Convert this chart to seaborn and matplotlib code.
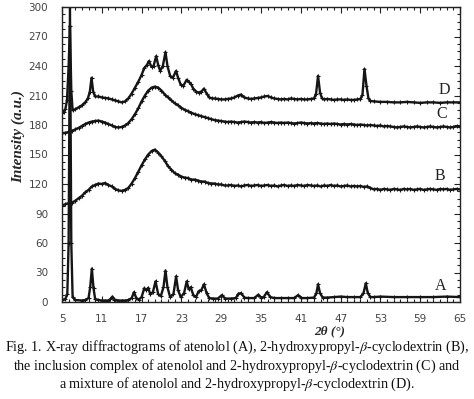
import matplotlib
matplotlib.use('Agg')
import matplotlib.pyplot as plt
import seaborn as sns
from matplotlib.ticker import MultipleLocator

# ── Data ─────────────────────────────────────────────────────────────────────
two_theta_bc = [5, 5.5, 6, 6.5, 7, 7.5, 8, 8.5, 9, 9.5, 10, 10.5, 11, 11.5, 12, 12.5,
                13, 13.5, 14, 14.5, 15, 15.5, 16, 16.5, 17, 17.5, 18, 18.5, 19, 19.5,
                20, 20.5, 21, 21.5, 22, 22.5, 23, 23.5, 24, 24.5, 25, 25.5, 26, 26.5,
                27, 27.5, 28, 28.5, 29, 29.5, 30, 30.5, 31, 31.5, 32, 32.5, 33, 33.5,
                34, 34.5, 35, 35.5, 36, 36.5, 37, 37.5, 38, 38.5, 39, 39.5, 40, 40.5,
                41, 41.5, 42, 42.5, 43, 43.5, 44, 44.5, 45, 45.5, 46, 46.5, 47, 47.5,
                48, 48.5, 49, 49.5, 50, 50.5, 51, 51.5, 52, 52.5, 53, 53.5, 54, 54.5,
                55, 55.5, 56, 56.5, 57, 57.5, 58, 58.5, 59, 59.5, 60, 60.5, 61, 61.5,
                62, 62.5, 63, 63.5, 64, 64.5, 65]

intensity_b = [98, 99.5, 100.5, 101, 103, 105.5, 108, 111.5, 114, 117.5, 119, 120.5,
               120, 121, 119, 117.5, 115, 113.5, 113, 114, 116, 120.5, 126, 132.5,
               139, 145, 150, 153.5, 155, 152, 148, 143.5, 138, 134.5, 131, 129.5,
               127.5, 126.5, 126, 124.5, 124.5, 123.5, 122.5, 122.5, 121, 120.5, 120.5,
               119.5, 119.5, 118.5, 118.5, 119, 118, 118.5, 117.5, 118.5, 119, 118,
               118.5, 119, 118, 118.5, 119, 118, 118.5, 117.5, 118.5, 119, 118, 118.5,
               118, 119, 118.5, 118, 119, 118.5, 118, 118.5, 117.5, 118.5, 118, 119,
               118, 118.5, 117.5, 118, 118.5, 117.5, 118, 117.5, 118, 117, 117.5, 116,
               114.5, 115, 114, 115, 114.5, 114, 115, 114.5, 114, 115, 114.5, 115,
               114, 114.5, 115, 114, 114.5, 115, 114.5, 114, 115, 114.5, 115, 114,
               114.5, 115, 114.5]

intensity_c = [171.5, 172, 173, 174, 175.5, 177, 179, 181, 182.5, 183.5, 184, 184.5,
               183.5, 182.5, 181, 179.5, 178, 177.5, 178, 179.5, 182, 186, 191, 197,
               204, 210, 215, 218, 219, 218, 215, 211, 208, 205, 202, 200, 197.5,
               195.5, 194, 192.5, 191, 190, 189, 188, 187, 186, 185, 184.5, 184, 183.5,
               183, 183.5, 183, 182.5, 183, 183.5, 183, 182.5, 183, 182.5, 183, 182,
               182.5, 183, 182.5, 182, 182.5, 182, 182.5, 182, 181.5, 182, 182.5, 182,
               181.5, 182, 181.5, 182, 181.5, 181, 181.5, 181, 181.5, 181, 180.5, 181,
               180.5, 181, 180.5, 180, 180.5, 180, 179.5, 180, 179.5, 179, 179.5, 178.5,
               179, 178.5, 178, 177.5, 178, 178.5, 178, 177.5, 178, 178.5, 178, 177.5,
               178, 178.5, 178, 177.5, 178, 178.5, 178, 177.5, 178, 178.5, 178]

two_theta_a = [5, 5.5, 5.8, 6.0, 6.2, 6.4, 6.6, 7, 8, 8.5, 9.0, 9.25, 9.5, 9.75, 10.0,
               10.5, 11, 11.5, 12, 12.3, 12.6, 12.9, 13.5, 14, 14.5, 15, 15.5, 15.85,
               16.2, 16.6, 17, 17.4, 17.7, 18.0, 18.3, 18.7, 19.1, 19.5, 19.9, 20.3,
               20.6, 20.9, 21.3, 21.8, 22.2, 22.5, 22.9, 23.4, 23.8, 24.1, 24.4, 24.8,
               25.2, 25.6, 26.0, 26.4, 26.8, 27.2, 27.8, 28.5, 29.1, 29.6, 30.5, 31.2,
               31.6, 32.0, 32.5, 33, 34, 34.6, 35.0, 35.4, 35.9, 36.4, 37, 38, 39, 40,
               40.6, 41.1, 42, 43.0, 43.35, 43.6, 43.9, 44.3, 45, 46, 47, 48, 49, 50,
               50.45, 50.8, 51.1, 51.5, 52, 53, 55, 57, 59, 61, 63, 65]
intensity_a = [2, 3, 8, 60, 300, 60, 5, 2, 1.5, 2, 4, 15, 34, 14, 3,
               2, 1.5, 1.5, 1.5, 3, 5.5, 2.5, 1.5, 1.5, 1.5, 2, 4, 10,
               4, 2.5, 5, 14, 12, 14.5, 8, 10, 21, 8, 6, 15,
               32, 15, 5, 8, 26, 12, 5, 9, 21, 13, 15, 7,
               5, 11, 12, 18, 9, 4, 3.5, 3.5, 7, 3.5, 3.5, 4,
               8.5, 9, 4.5, 4, 4, 7.5, 4.5, 5, 10, 5, 4, 4, 4, 4,
               7, 4, 4, 4.5, 9, 18, 9, 4.5, 4.5, 5, 5.5, 5, 5, 5,
               9, 19, 9, 5, 5, 5.5, 5, 5, 5, 5, 5.5, 5]

two_theta_d = [5.0, 5.25, 5.5, 5.75, 6.0, 6.2, 6.4, 6.6, 7.0, 7.5, 8.0, 8.5, 8.9, 9.2,
               9.45, 9.7, 10.0, 10.5, 11.0, 11.5, 12.0, 12.5, 13.0, 13.5, 14.0, 14.5,
               15.0, 15.5, 16.0, 16.5, 17.0, 17.4, 17.8, 18.1, 18.5, 18.8, 19.2, 19.5,
               19.8, 20.2, 20.6, 20.9, 21.3, 21.7, 22.2, 22.5, 22.9, 23.3, 23.8, 24.1,
               24.4, 24.8, 25.2, 25.6, 26.0, 26.4, 26.8, 27.2, 27.6, 28, 28.5, 29, 29.5,
               30, 30.5, 31, 31.5, 32, 32.5, 33, 33.5, 34, 34.5, 35, 35.5, 36, 36.5, 37,
               37.5, 38, 38.5, 39, 39.5, 40, 40.5, 41, 41.5, 42, 42.5, 43, 43.3, 43.6,
               43.9, 44.2, 44.5, 45, 45.5, 46, 46.5, 47, 47.5, 48, 48.5, 49, 49.5, 50,
               50.3, 50.6, 50.9, 51.2, 51.5, 52, 53, 54, 55, 56, 57, 58, 59, 60, 61, 62,
               63, 64, 65]
intensity_d = [192, 193, 196, 205, 240, 281, 215, 195, 196, 198, 200, 203, 207, 214,
               228, 214, 209, 209, 208, 207.5, 207, 206, 205, 204, 203, 204,
               207, 212, 218, 224, 231, 238, 241, 245, 239, 240, 250, 241,
               235, 240, 254, 240, 230, 228, 235, 228, 221, 220, 226, 224,
               222, 217, 214, 213, 214, 217, 212, 208, 207, 207, 206.5, 206, 206,
               206.5, 207, 208, 210, 211, 208, 207, 206.5, 207, 207.5, 208, 209, 209.5, 208, 207,
               206.5, 206, 206.5, 206, 207, 206.5, 206, 206.5, 206, 206, 206.5, 207, 212, 230,
               213, 207, 206, 206.5, 206, 205.5, 206, 206, 205.5, 206, 205.5, 205.5, 206, 206.5,
               211, 237, 220, 207, 204.5, 204, 203.5, 203.5, 203, 203, 203.5, 203, 202.5, 203, 203, 202.5,
               203, 203, 203]

x_ticks = [5, 11, 17, 23, 29, 35, 41, 47, 53, 59, 65]
y_ticks = [0, 30, 60, 90, 120, 150, 180, 210, 240, 270, 300]

curve_labels = ['A', 'B', 'C', 'D']
label_x = [62.0, 62.0, 62.3, 62.6]
label_y = [16, 128, 191.5, 215.5]

caption = ("Fig. 1. X-ray diffractograms of atenolol (A), 2-hydroxypropyl-$\\beta$-cyclodextrin (B),\n"
           "the inclusion complex of atenolol and 2-hydroxypropyl-$\\beta$-cyclodextrin (C) and\n"
           "a mixture of atenolol and 2-hydroxypropyl-$\\beta$-cyclodextrin (D).")

# ── Style ────────────────────────────────────────────────────────────────────
sns.set_style('ticks')
plt.rcParams['font.family'] = ['DejaVu Sans']
plt.rcParams['mathtext.fontset'] = 'stix'
plt.rcParams['xtick.direction'] = 'in'
plt.rcParams['ytick.direction'] = 'in'

fig = plt.figure(figsize=(4.74, 3.99), dpi=100)
ax = fig.add_axes([62/474, 1 - 302/399, 398/474, 295/399])

line_kw = dict(color='#151515', linewidth=1.7, marker='+', markersize=3.5,
               markeredgewidth=0.8, markeredgecolor='#151515',
               estimator=None, sort=False, ax=ax)
sns.lineplot(x=two_theta_a, y=intensity_a, **line_kw)
sns.lineplot(x=two_theta_bc, y=intensity_b, **line_kw)
sns.lineplot(x=two_theta_bc, y=intensity_c, **line_kw)
sns.lineplot(x=two_theta_d, y=intensity_d, **line_kw)

for lab, lx, ly in zip(curve_labels, label_x, label_y):
    ax.text(lx, ly, lab, fontsize=11.5, family='Liberation Serif',
            ha='center', va='center', color='#222')

ax.set_xlim(5, 65)
ax.set_ylim(0, 300)
ax.set_xticks(x_ticks)
ax.set_yticks(y_ticks)
ax.xaxis.set_minor_locator(MultipleLocator(1))
ax.yaxis.set_minor_locator(MultipleLocator(7.5))
ax.tick_params(which='both', top=True, right=True, labelsize=7.5,
               labelcolor='#444', width=0.8, color='#222')
ax.tick_params(which='major', length=4)
ax.tick_params(axis='x', which='major', pad=9)
ax.tick_params(axis='y', which='major', pad=10)
ax.tick_params(which='minor', length=2)
for sp in ax.spines.values():
    sp.set_linewidth(1.0)
    sp.set_color('#222')

ax.set_xlabel('')
ax.set_ylabel('')
fig.text(330/474, 1 - 331/399, '2θ (°)', fontsize=9.5, family='Liberation Serif',
         weight='bold', style='italic', ha='center', va='center')
fig.text(18/474, 1 - 137/399, 'Intensity (a.u.)', fontsize=11, family='Liberation Serif',
         weight='bold', style='italic', rotation=90, ha='center', va='center')

fig.text(0.5, 1 - 366/399, caption, fontsize=10.2, family='Liberation Serif',
         ha='center', va='center', linespacing=1.1, color='#111')

fig.savefig('out.png', dpi=100)
